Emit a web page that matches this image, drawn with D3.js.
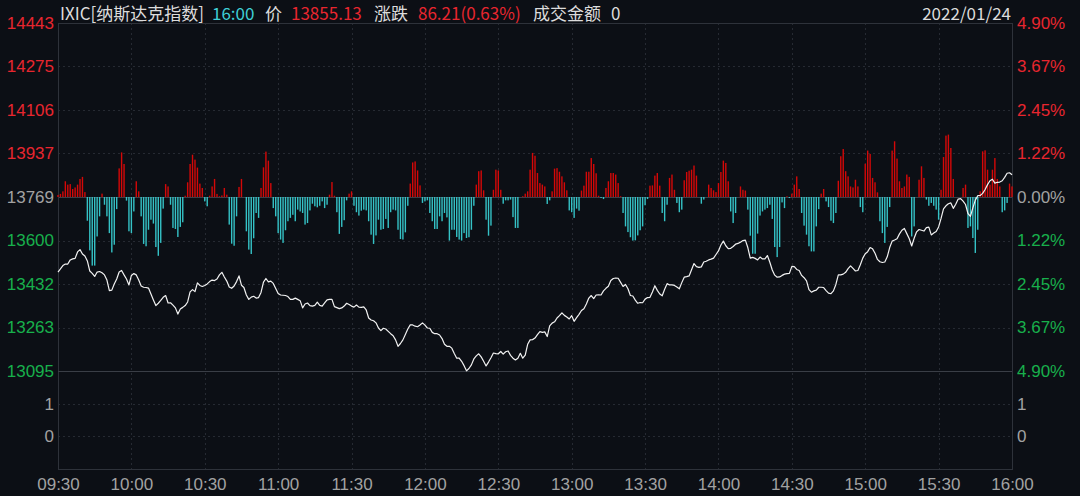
<!DOCTYPE html>
<html><head><meta charset="utf-8">
<script src="https://cdn.jsdelivr.net/npm/d3@7/dist/d3.min.js"></script>
<style>
html,body{margin:0;padding:0;background:#0c0f15;}
svg{display:block;font-family:"Noto Sans CJK SC","Noto Sans",sans-serif;}
</style>
</head><body>
<svg id="c" width="1080" height="496"></svg>
<script>
// ---------------- data ----------------
const prevClose = 13768.92;
const lastPrice = 13855.13;
const priceTicks = [14443, 14275, 14106, 13937, 13769, 13600, 13432, 13263, 13095];
const pctTicks = ["4.90%","3.67%","2.45%","1.22%","0.00%","1.22%","2.45%","3.67%","4.90%"];
const timeTicks = ["09:30","10:00","10:30","11:00","11:30","12:00","12:30","13:00","13:30","14:00","14:30","15:00","15:30","16:00"];
const volTicks = [1, 0];
const header = {name:"IXIC[纳斯达克指数]", time:"16:00", priceLabel:"价", price:"13855.13",
  chgLabel:"涨跌", chg:"86.21(0.63%)", amtLabel:"成交金额", amt:"0", date:"2022/01/24"};

// price change vs previous close, one value per minute 09:30..16:00
const lineChg = [
-291,-279,-266,-260,-260,-244,-240,-238,-213,-204,
-221,-229,-248,-287,-296,-308,-291,-289,-294,-302,
-322,-363,-361,-337,-318,-291,-285,-302,-318,-341,
-304,-297,-302,-322,-345,-350,-351,-353,-376,-399,
-421,-412,-401,-389,-382,-411,-410,-419,-430,-454,
-434,-428,-421,-407,-368,-359,-367,-333,-343,-347,
-343,-337,-328,-322,-324,-318,-302,-292,-310,-326,
-349,-354,-345,-328,-306,-342,-351,-380,-397,-388,
-385,-392,-390,-370,-330,-316,-329,-326,-335,-355,
-374,-380,-381,-382,-386,-397,-397,-392,-397,-402,
-430,-415,-411,-421,-423,-420,-408,-420,-423,-411,
-399,-397,-397,-425,-429,-433,-430,-423,-412,-417,
-423,-427,-419,-427,-428,-426,-438,-469,-477,-480,
-488,-508,-518,-509,-512,-521,-530,-538,-554,-579,
-568,-554,-533,-512,-496,-496,-501,-503,-496,-488,
-497,-508,-509,-525,-530,-530,-535,-549,-571,-579,
-579,-586,-607,-625,-625,-637,-654,-674,-665,-651,
-628,-616,-608,-620,-637,-655,-640,-623,-605,-607,
-608,-599,-609,-600,-597,-614,-625,-632,-625,-606,
-625,-613,-571,-554,-553,-547,-534,-522,-525,-523,
-541,-500,-489,-484,-469,-460,-449,-459,-465,-473,
-460,-482,-468,-455,-440,-433,-415,-392,-382,-394,
-380,-379,-380,-364,-354,-346,-324,-316,-314,-315,
-331,-347,-339,-356,-382,-384,-400,-412,-409,-410,
-396,-390,-389,-368,-344,-362,-376,-383,-358,-336,
-341,-341,-343,-349,-356,-332,-311,-309,-306,-282,
-258,-270,-273,-271,-252,-249,-244,-241,-237,-223,
-209,-186,-171,-189,-200,-199,-192,-183,-180,-175,
-169,-167,-196,-237,-234,-238,-244,-233,-240,-240,
-227,-253,-283,-303,-311,-310,-304,-299,-297,-296,
-269,-270,-281,-285,-304,-313,-325,-359,-369,-364,
-361,-350,-350,-351,-363,-373,-375,-364,-339,-302,
-302,-299,-292,-278,-267,-277,-287,-285,-263,-237,
-220,-212,-196,-201,-218,-242,-251,-254,-252,-232,
-196,-171,-167,-162,-143,-129,-122,-142,-162,-190,
-160,-135,-126,-129,-132,-119,-117,-147,-140,-134,
-116,-83,-46,-34,-26,-23,-44,-28,-8,-6,
-16,-29,-64,-75,-42,-12,5,6,14,29,
48,63,69,54,57,58,63,76,92,94,
86.21
];

// red / cyan strength bars, one per minute (same point units)
const barVals = [
8,12,22,61,48,50,31,37,48,70,
78,19,-92,-207,-266,-266,-153,-75,13,-30,
-75,-140,-215,-185,-47,111,173,128,-14,-133,
-140,-56,61,22,-75,-182,-191,-127,-88,-103,
-194,-228,-178,-45,50,41,-30,-120,-124,-155,
-116,-98,5,57,128,164,145,114,52,35,
-17,-36,5,41,70,12,3,6,35,9,
-107,-181,-189,-75,39,70,0,-133,-204,-221,
-160,-62,-81,35,115,176,141,54,-43,-75,
-140,-165,-178,-129,-94,-81,-69,-94,-49,-56,
-62,-107,-101,-52,-26,-36,-40,-34,-17,-43,
-30,9,58,5,-59,-143,-116,-90,-13,13,
22,-34,-59,-72,-53,-49,-52,-94,-146,-182,
-149,-88,-127,-124,-85,-120,-59,-49,-52,-127,
-163,-165,-137,-34,52,134,138,103,45,-23,
-17,-13,-62,-94,-124,-124,-75,-94,-62,-79,
-169,-127,-127,-155,-165,-169,-140,-159,-156,-127,
-34,48,100,103,26,-88,-150,-111,28,106,
103,28,-26,-13,-13,-10,-78,-120,-120,0,
3,13,22,106,171,160,93,54,48,41,
-27,-13,22,110,112,98,80,57,26,-52,
-59,-81,-45,-53,25,44,98,98,151,128,
92,5,-4,-8,35,61,93,93,87,54,
3,-62,-114,-136,-156,-169,-168,-149,-129,-114,
-32,-8,44,45,83,93,44,-62,-94,-30,
74,87,28,-23,-59,-49,65,97,102,106,
122,83,0,-26,-10,0,48,35,26,19,
54,97,141,132,61,-56,-101,-62,0,41,
28,25,-49,-150,-220,-220,-142,-72,-56,-49,
-43,-30,-85,-194,-233,-194,-21,-43,3,-4,
13,48,80,31,-62,-111,-146,-191,-211,-211,
-114,-47,13,31,-17,-39,-92,-101,-62,63,
158,186,100,80,41,37,67,41,-39,-59,
129,180,167,74,57,18,-94,-140,-178,-116,
-39,180,216,149,61,35,41,87,78,-153,
-114,0,67,119,74,-10,-34,-23,-34,-49,
-88,28,155,238,242,190,70,0,0,0,
35,48,-120,-114,-159,-217,-127,22,177,181,
106,48,106,151,70,41,-59,-52,-23,52,
41
];

// ---------------- layout ----------------
const L = 58, R = 1012, T = 23, MID = 371, B = 469;
const FS = 17;
const C = {bg:"#0c0f15", grid:"#262a32", border:"#2e323a", sep:"#3a3e46", base:"#3c4048",
  red:"#e8262f", green:"#18b04c", grey:"#a2a2a2", white:"#dcdcdc", cyan:"#3fd0d6",
  barUp:"#d40808", barDn:"#35c2c6", line:"#f2f2f2"};

const svg = d3.select("#c");
svg.append("rect").attr("width",1080).attr("height",496).attr("fill",C.bg);

const span = prevClose * 0.049;
const x = d3.scaleLinear().domain([0, 390]).range([L, R]);
const y = d3.scaleLinear().domain([prevClose - span, prevClose + span]).range([MID, T]);
const yv = d3.scaleLinear().domain([-1, 2]).range([B, MID]);
const tIdx = timeTicks.map((d,i)=>i*30);
const tickLevels = priceTicks.map((v,i)=>prevClose + span*(4-i)/4);

// grid
const g = svg.append("g");
g.selectAll(".hg").data(tickLevels.slice(1, -1)).join("line")
  .attr("x1",L).attr("x2",R).attr("y1",d=>Math.round(y(d))+0.5).attr("y2",d=>Math.round(y(d))+0.5)
  .attr("stroke",C.grid).attr("stroke-dasharray","2,3");
g.selectAll(".vg").data(volTicks).join("line")
  .attr("x1",L).attr("x2",R).attr("y1",d=>Math.round(yv(d))+0.5).attr("y2",d=>Math.round(yv(d))+0.5)
  .attr("stroke",C.grid).attr("stroke-dasharray","2,3");
g.selectAll(".tg").data(tIdx.slice(1,-1)).join("line")
  .attr("x1",d=>Math.round(x(d))+0.5).attr("x2",d=>Math.round(x(d))+0.5).attr("y1",T).attr("y2",B)
  .attr("stroke",C.grid).attr("stroke-dasharray","2,3");

// baseline & borders
g.append("line").attr("x1",L).attr("x2",R).attr("y1",Math.round(y(prevClose))+0.5).attr("y2",Math.round(y(prevClose))+0.5)
  .attr("stroke",C.base);
g.append("rect").attr("x",L+0.5).attr("y",T+0.5).attr("width",R-L).attr("height",B-T)
  .attr("fill","none").attr("stroke",C.border);
g.append("line").attr("x1",L).attr("x2",R).attr("y1",MID+0.5).attr("y2",MID+0.5).attr("stroke",C.sep);

// bars
svg.append("g").selectAll("rect").data(barVals).join("rect")
  .attr("x",(d,i)=>x(i)-0.7).attr("width",1.4)
  .attr("y",d=>y(prevClose + Math.max(d,0)))
  .attr("height",d=>Math.abs(y(prevClose + d) - y(prevClose)))
  .attr("fill",d=>d>=0?C.barUp:C.barDn);

// price line
svg.append("path").datum(lineChg)
  .attr("d", d3.line().x((d,i)=>x(i)).y(d=>y(prevClose + d)))
  .attr("fill","none").attr("stroke",C.line).attr("stroke-width",1.2).attr("stroke-linejoin","round");

// axes
function style(sel){ sel.select(".domain").remove(); sel.selectAll(".tick line").remove();
  sel.selectAll("text").attr("font-size",FS).attr("font-family",null); }
const leftAx = svg.append("g").attr("transform",`translate(${L},0)`)
  .call(d3.axisLeft(y).tickValues(tickLevels).tickSize(0).tickPadding(4)
  .tickFormat((d,i)=>priceTicks[i]));
style(leftAx);
leftAx.selectAll("text").attr("fill",(d,i)=> i<4?C.red:(i===4?C.grey:C.green));
const rightAx = svg.append("g").attr("transform",`translate(${R},0)`)
  .call(d3.axisRight(y).tickValues(tickLevels).tickSize(0).tickPadding(5)
  .tickFormat((d,i)=>pctTicks[i]));
style(rightAx);
rightAx.selectAll("text").attr("fill",(d,i)=> i<4?C.red:(i===4?C.grey:C.green));
const lv = svg.append("g").attr("transform",`translate(${L},0)`)
  .call(d3.axisLeft(yv).tickValues(volTicks).tickSize(0).tickPadding(4).tickFormat(d3.format("d")));
style(lv); lv.selectAll("text").attr("fill",C.grey);
const rv = svg.append("g").attr("transform",`translate(${R},0)`)
  .call(d3.axisRight(yv).tickValues(volTicks).tickSize(0).tickPadding(5).tickFormat(d3.format("d")));
style(rv); rv.selectAll("text").attr("fill",C.grey);
const bx = svg.append("g").attr("transform",`translate(0,${B})`)
  .call(d3.axisBottom(x).tickValues(tIdx).tickSize(0).tickPadding(9).tickFormat((d,i)=>timeTicks[i]));
style(bx); bx.selectAll("text").attr("fill",C.grey);

// header
const h = svg.append("text").attr("y",19.5).attr("font-size",FS);
[[header.name,60,C.white],[header.time,212,C.cyan],[header.priceLabel,265,C.white],[header.price,291,C.red],
 [header.chgLabel,374,C.white],[header.chg,418,C.red],[header.amtLabel,533,C.white],[header.amt,611,C.white]]
 .forEach(([t,xx,c])=>h.append("tspan").attr("x",xx).attr("fill",c).text(t));
svg.append("text").attr("x",1011).attr("y",19.5).attr("text-anchor","end").attr("font-size",FS)
  .attr("fill",C.white).text(header.date);
</script>
</body></html>
